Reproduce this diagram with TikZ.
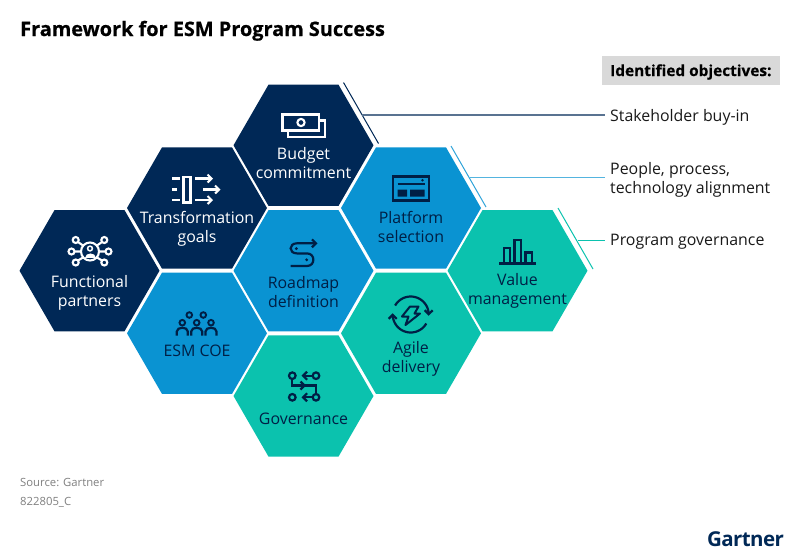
\documentclass[tikz,border=0pt]{standalone}
\usepackage{fontspec}
\setmainfont{Open Sans}
\newfontfamily\heavyfont[FakeBold=0.6,BoldFont={Open Sans Bold}]{Open Sans Bold}
\usetikzlibrary{shapes.geometric,arrows.meta}
\definecolor{navy}{HTML}{002856}
\definecolor{ink}{HTML}{001F45}
\definecolor{midblue}{HTML}{0A93D2}
\definecolor{teal1}{HTML}{0BC2AE}
\definecolor{boxgray}{HTML}{D9D9D9}
\definecolor{srcgray}{HTML}{7F7F7F}
\tikzset{
  hex/.style={regular polygon,regular polygon sides=6,minimum size=140pt,inner sep=0pt,outer sep=0pt,draw=none,fill=#1},
  hexlabel/.style={align=center,inner sep=0pt,font=\fontsize{15.9}{19}\selectfont},
  objlabel/.style={anchor=west,align=left,inner sep=0pt,text=black!90,font=\fontsize{15.9}{19}\selectfont},
  wic/.style={draw=white,line width=2.1pt,fill=none},
  nic/.style={draw=ink,line width=2.2pt,fill=none},
  tipw/.style={-{Straight Barb[length=4pt,width=8pt,line width=2.1pt]}},
  tipn/.style={-{Straight Barb[length=4pt,width=8pt,line width=2.2pt]}},
}
\begin{document}
\begin{tikzpicture}[x=1pt,y=-1pt]
\useasboundingbox (0,0) rectangle (800,555);
% hexagons
\node[hex=navy] (budget) at (303.5,145.3) {};
\node[hex=navy] (trans) at (197,208) {};
\node[hex=navy] (func) at (89.5,270.7) {};
\node[hex=midblue] (plat) at (411,208) {};
\node[hex=midblue] (road) at (303.5,270.7) {};
\node[hex=midblue] (coe) at (197,333.3) {};
\node[hex=teal1] (value) at (517.5,270.7) {};
\node[hex=teal1] (agile) at (411,333.3) {};
\node[hex=teal1] (gov) at (303.5,396) {};
% labels
\node[hexlabel,text=white] (lbudget) at (303.5,163) {Budget\\commitment};
\node[hexlabel,text=white] (ltrans) at (197,228.5) {Transformation\\goals};
\node[hexlabel,text=white] (lfunc) at (89.5,292.5) {Functional\\partners};
\node[hexlabel,text=ink] (lplat) at (411,227) {Platform\\selection};
\node[hexlabel,text=ink] (lroad) at (303.5,292) {Roadmap\\definition};
\node[hexlabel,text=ink] (lcoe) at (197,350.5) {ESM COE};
\node[hexlabel,text=ink] (lvalue) at (517.5,291) {Value\\management};
\node[hexlabel,text=ink] (lagile) at (411,359) {Agile\\delivery};
\node[hexlabel,text=ink] (lgov) at (303.5,418.5) {Governance};
% title
\node[anchor=base west,inner sep=0pt,font=\fontsize{19.9}{24}\selectfont\heavyfont,text=black] (title) at (20,36) {Framework for ESM Program Success};
% objectives
\node[anchor=west,fill=boxgray,minimum width=178pt,minimum height=29pt,inner sep=0pt,outer sep=0pt] (objbox) at (602,70.5) {};
\node[anchor=west,inner sep=0pt,font=\fontsize{15.4}{19}\selectfont\heavyfont,text=black] (objhead) at (610,72) {Identified objectives:};
\node[objlabel] (o1) at (610,117) {Stakeholder buy-in};
\node[objlabel] (o2) at (610,179.5) {People, process,\\technology alignment};
\node[objlabel] (o3) at (610,242) {Program governance};
% brackets and leaders
\coordinate (b1a) at (343.5,82.5); \coordinate (b1b) at (378.5,143.5); \coordinate (l1a) at (362,115); \coordinate (l1b) at (605,115);
\coordinate (b2a) at (451,146); \coordinate (b2b) at (486,207); \coordinate (l2a) at (470,177.5); \coordinate (l2b) at (605,177.5);
\coordinate (b3a) at (558,208); \coordinate (b3b) at (593,269); \coordinate (l3a) at (578,240.5); \coordinate (l3b) at (605,240.5);
\draw[navy,line width=1pt] (b1a) -- (b1b);
\draw[navy!65!white,line width=1.1pt] (l1a) -- (l1b);
\draw[midblue!85!white,line width=1pt] (b2a) -- (b2b);
\draw[midblue!70!white,line width=1pt] (l2a) -- (l2b);
\draw[teal1,line width=1pt] (b3a) -- (b3b);
\draw[teal1,line width=1pt] (l3a) -- (l3b);
% budget icon
\draw[wic] (282.5,114.5) rectangle (319,130.5);
\draw[wic] (288,131) -- (288,137) -- (325,137) -- (325,120.5) -- (319.5,120.5);
\draw[wic] (301,122.5) circle (3.6);
% transformation icon
\draw[wic] (183.5,177) rectangle (190.5,202.5);
\draw[wic] (172,178.5) -- (180,178.5) (172,189.5) -- (177,189.5) (172,200) -- (180,200);
\draw[wic,tipw] (195,178.5) -- (213,178.5);
\draw[wic,tipw] (203,189.5) -- (220.5,189.5);
\draw[wic,tipw] (195,200) -- (213,200);
% functional icon
\draw[wic] (90,251.5) circle (9);
\draw[wic,line width=1.5pt] (90,248.5) circle (2.4);
\fill[white] (84.5,257.5) .. controls (84.5,251.5) and (95.5,251.5) .. (95.5,257.5) -- cycle;
\draw[wic] (75.7,240) circle (3) (104.3,240) circle (3) (75.7,262.5) circle (3) (104.3,262.5) circle (3) (71.5,251.5) circle (3) (108.5,251.5) circle (3);
\draw[wic] (78,242) -- (83,245.5) (102,242) -- (97,245.5) (78,260.5) -- (83,257.5) (102,260.5) -- (97,257.5) (74.5,251.5) -- (81,251.5) (105.5,251.5) -- (99,251.5);
% platform icon
\draw[draw=ink,line width=2.4pt] (393,176.5) rectangle (429,200.5);
\draw[draw=ink,line width=1.7pt] (397.5,184.3) -- (424.5,184.3);
\fill[ink] (422.5,180.2) circle (1.4);
\fill[ink] (397.5,189.5) rectangle (407,196.7) (410,189.5) rectangle (424.5,196.7);
% roadmap icon
\draw[nic,tipn] (290.5,266) -- (307,266) .. controls (315.5,266) and (315.5,253.4) .. (307,253.4) -- (297,253.4) .. controls (288.5,253.4) and (288.5,243.3) .. (297,243.3) -- (317.5,243.3);
\fill[ink] (296.3,248.6) circle (1.6) (306.7,259.8) circle (1.6);
% value icon
\draw[nic] (499,263.5) -- (536,263.5);
\draw[nic] (504,263.5) -- (504,248) -- (510,248) -- (510,263.5);
\draw[nic] (514.5,263.5) -- (514.5,240) -- (521,240) -- (521,263.5);
\draw[nic] (525.5,263.5) -- (525.5,252.5) -- (532,252.5) -- (532,263.5);
% agile icon
\draw[nic,tipn] plot[domain=150:-4,samples=24] ({410.7+18*cos(\x)},{314.5-18*sin(\x)});
\draw[nic,tipn] plot[domain=-30:-184,samples=24] ({410.7+18*cos(\x)},{314.5-18*sin(\x)});
\draw[draw=ink,line width=2pt,line join=round] (410,306.5) -- (418.5,306.5) -- (414.5,313.5) -- (420,313.5) -- (405.5,325) -- (408.5,316.5) -- (402,316.5) -- cycle;
% governance icon
\draw[nic] (292.3,375.7) circle (3.3) (316,375.7) circle (3.3) (292.3,397.3) circle (3.3) (316,397.3) circle (3.3);
\draw[nic,tipn] (312.5,375.7) -- (301.5,375.7);
\draw[nic,tipn] (312.5,397.3) -- (301.5,397.3);
\draw[nic] (292.3,379) -- (292.3,385.5) -- (316,385.5) -- (316,394);
\draw[nic] (300.5,381.5) -- (304.5,385.5) -- (300.5,389.5);
% coe icon
\foreach \cx in {189.3,203.3}{\draw[nic,line width=1.9pt] (\cx,315) circle (2.8);}
\foreach \cx in {182.3,196.7,211}{
  \draw[nic,line width=1.9pt] (\cx,322.7) circle (2.8);
  \draw[nic] (\cx-5.5,335.5) -- (\cx-5.5,331.5) .. controls (\cx-5.5,326.5) and (\cx+5.5,326.5) .. (\cx+5.5,331.5) -- (\cx+5.5,335.5);
}
% source
\node[anchor=base west,inner sep=0pt,text=srcgray,font=\fontsize{11.3}{14}\selectfont] (src) at (20,486) {Source: Gartner};
\node[anchor=base west,inner sep=0pt,text=srcgray,font=\fontsize{11.3}{14}\selectfont] (code) at (20,505) {822805\_C};
% logo
\node[anchor=base east,inner sep=0pt,text=navy,font=\fontsize{20.5}{24}\selectfont\bfseries\addfontfeature{LetterSpace=-3}] (logo) at (784,546) {Gartner};
\end{tikzpicture}
\end{document}
